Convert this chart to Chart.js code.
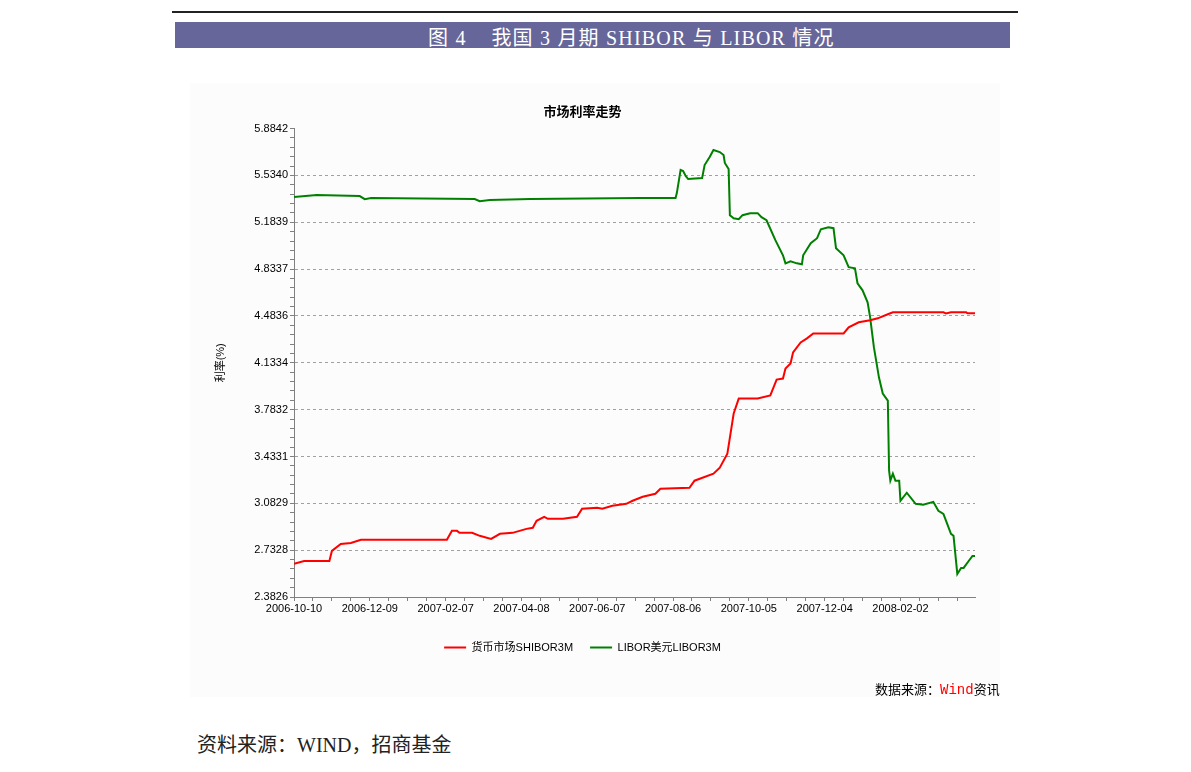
<!DOCTYPE html>
<html>
<head>
<meta charset="utf-8">
<script src="https://cdn.jsdelivr.net/npm/chart.js@4/dist/chart.umd.min.js"></script>
<style>
  body { margin: 0; background: #fff; width: 1191px; height: 772px; position: relative; overflow: hidden; }
  #rule { position: absolute; left: 172px; top: 11px; width: 846px; height: 2px; background: #222; }
  #banner { position: absolute; left: 175px; top: 22px; width: 835px; height: 26px; background: #66669a; }
  #banner span { position: absolute; left: 253px; top: 0; line-height: 26px; font: 20px "Liberation Serif", "Noto Sans CJK SC", serif; letter-spacing: 1.2px; color: #fff; white-space: pre; }
  #box { position: absolute; left: 190px; top: 83px; width: 810px; height: 614px; background: #fcfcfc; }
  #src { position: absolute; left: 875px; top: 679px; font: 13px "Noto Sans CJK SC", sans-serif; color: #000; white-space: pre; }
  #src b { font: 14px "Liberation Mono", monospace; color: #ff0000; font-weight: normal; }
  #foot { position: absolute; left: 197px; top: 729px; font: 20px "Liberation Serif", "Noto Sans CJK SC", serif; color: #222; white-space: pre; }
</style>
</head>
<body>
<div id="rule"></div>
<div id="banner"><span>图 4    我国 3 月期 SHIBOR 与 LIBOR 情况</span></div>
<div id="box"><canvas id="chart" width="810" height="614"></canvas></div>
<div id="src">数据来源：<b>Wind</b>资讯</div>
<div id="foot">资料来源：WIND，招商基金</div>
<script>
// 货币市场SHIBOR3M
const shiborDates = ['2006-10-10', '2006-10-18', '2006-11-07', '2006-11-09', '2006-11-16', '2006-11-24', '2006-12-02', '2007-02-08', '2007-02-12', '2007-02-16', '2007-02-18', '2007-02-28', '2007-03-06', '2007-03-15', '2007-03-22', '2007-04-01', '2007-04-12', '2007-04-17', '2007-04-20', '2007-04-26', '2007-04-29', '2007-05-11', '2007-05-22', '2007-05-26', '2007-06-07', '2007-06-11', '2007-06-19', '2007-06-30', '2007-07-05', '2007-07-13', '2007-07-23', '2007-07-27', '2007-08-19', '2007-08-23', '2007-09-07', '2007-09-12', '2007-09-18', '2007-09-20', '2007-09-23', '2007-09-27', '2007-10-12', '2007-10-22', '2007-10-27', '2007-11-01', '2007-11-03', '2007-11-07', '2007-11-09', '2007-11-15', '2007-11-20', '2007-11-25', '2007-12-19', '2007-12-23', '2007-12-31', '2008-01-09', '2008-01-15', '2008-01-23', '2008-01-27', '2008-03-07', '2008-03-09', '2008-03-13', '2008-03-25', '2008-03-26', '2008-04-01'];
const shiborValues = [2.630, 2.652, 2.652, 2.727, 2.779, 2.786, 2.810, 2.810, 2.877, 2.877, 2.862, 2.862, 2.840, 2.817, 2.855, 2.862, 2.892, 2.900, 2.952, 2.982, 2.967, 2.967, 2.982, 3.042, 3.049, 3.042, 3.064, 3.079, 3.102, 3.132, 3.154, 3.192, 3.199, 3.252, 3.304, 3.349, 3.454, 3.574, 3.754, 3.866, 3.866, 3.889, 4.008, 4.016, 4.091, 4.128, 4.211, 4.286, 4.316, 4.353, 4.353, 4.398, 4.436, 4.451, 4.466, 4.496, 4.511, 4.511, 4.503, 4.511, 4.511, 4.503, 4.503];

// LIBOR美元LIBOR3M
const liborDates = ['2006-10-10', '2006-10-28', '2006-12-01', '2006-12-05', '2006-12-10', '2007-03-02', '2007-03-06', '2007-03-14', '2007-04-15', '2007-07-11', '2007-08-08', '2007-08-09', '2007-08-12', '2007-08-14', '2007-08-16', '2007-08-18', '2007-08-29', '2007-08-31', '2007-09-04', '2007-09-07', '2007-09-12', '2007-09-15', '2007-09-16', '2007-09-19', '2007-09-20', '2007-09-23', '2007-09-27', '2007-09-30', '2007-10-06', '2007-10-12', '2007-10-15', '2007-10-19', '2007-10-26', '2007-11-01', '2007-11-03', '2007-11-07', '2007-11-12', '2007-11-16', '2007-11-17', '2007-11-23', '2007-11-28', '2007-12-01', '2007-12-07', '2007-12-11', '2007-12-13', '2007-12-19', '2007-12-23', '2007-12-28', '2007-12-30', '2008-01-03', '2008-01-07', '2008-01-09', '2008-01-12', '2008-01-16', '2008-01-19', '2008-01-23', '2008-01-24', '2008-01-25', '2008-01-27', '2008-01-29', '2008-02-01', '2008-02-02', '2008-02-07', '2008-02-14', '2008-02-20', '2008-02-28', '2008-03-03', '2008-03-07', '2008-03-10', '2008-03-13', '2008-03-15', '2008-03-18', '2008-03-21', '2008-03-23', '2008-03-27', '2008-03-30', '2008-04-01'];
const liborValues = [5.372, 5.387, 5.380, 5.357, 5.365, 5.357, 5.342, 5.350, 5.357, 5.365, 5.365, 5.402, 5.575, 5.567, 5.530, 5.507, 5.514, 5.612, 5.672, 5.724, 5.709, 5.687, 5.627, 5.582, 5.237, 5.214, 5.207, 5.237, 5.252, 5.252, 5.222, 5.199, 5.050, 4.937, 4.877, 4.892, 4.877, 4.870, 4.937, 5.027, 5.065, 5.132, 5.147, 5.140, 4.990, 4.937, 4.848, 4.840, 4.728, 4.675, 4.585, 4.473, 4.248, 4.023, 3.904, 3.851, 3.327, 3.252, 3.304, 3.252, 3.252, 3.102, 3.162, 3.079, 3.072, 3.094, 3.027, 3.004, 2.930, 2.855, 2.840, 2.555, 2.600, 2.600, 2.652, 2.690, 2.690];

const xTickLabels = ['2006-10-10', '2006-12-09', '2007-02-07', '2007-04-08', '2007-06-07', '2007-08-06', '2007-10-05', '2007-12-04', '2008-02-02'];
const yTickLabels = ['2.3826', '2.7328', '3.0829', '3.4331', '3.7832', '4.1334', '4.4836', '4.8337', '5.1839', '5.5340', '5.8842'];

const startDate = xTickLabels[0];
const dayOf = (d) => Math.round((Date.parse(d) - Date.parse(startDate)) / 86400000);
const toPoints = (dates, values) => dates.map((d, i) => ({ x: dayOf(d), y: values[i] }));

const fontFamily = "'Liberation Sans', 'Noto Sans CJK SC', sans-serif";
const axisGray = '#808080';
const yMajor = yTickLabels.map(Number);

new Chart(document.getElementById('chart'), {
    type: 'line',
    data: {
        datasets: [
            {
                label: '货币市场SHIBOR3M',
                data: toPoints(shiborDates, shiborValues),
                borderColor: '#ff0000',
                backgroundColor: '#ff0000',
                borderWidth: 2,
                pointRadius: 0,
                tension: 0,
            },
            {
                label: 'LIBOR美元LIBOR3M',
                data: toPoints(liborDates, liborValues),
                borderColor: '#008000',
                backgroundColor: '#008000',
                borderWidth: 2,
                pointRadius: 0,
                tension: 0,
            },
        ],
    },
    options: {
        responsive: false,
        animation: false,
        devicePixelRatio: 1,
        font: { family: fontFamily },
        layout: { padding: { left: 0, right: 25, top: 0, bottom: 34 } },
        plugins: {
            title: {
                display: true,
                text: '市场利率走势',
                color: '#000',
                font: { family: fontFamily, size: 13, weight: 'bold' },
                padding: { top: 22, bottom: 8 },
            },
            legend: {
                position: 'bottom',
                labels: {
                    color: '#000',
                    font: { family: fontFamily, size: 11 },
                    usePointStyle: true,
                    pointStyle: 'line',
                    pointStyleWidth: 22,
                    padding: 17,
                },
            },
            tooltip: { enabled: false },
        },
        scales: {
            x: {
                type: 'linear',
                min: 0,
                max: 539,
                afterBuildTicks: (scale) => {
                    const ticks = [];
                    for (let d = 0; d <= 525; d += 15) ticks.push({ value: d });
                    scale.ticks = ticks;
                },
                afterFit: (scale) => { scale.height = 28; },
                ticks: {
                    autoSkip: false,
                    maxRotation: 0,
                    padding: 1,
                    color: '#000',
                    font: { family: fontFamily, size: 11 },
                    callback: (value) => {
                        const lbl = xTickLabels.find((t) => dayOf(t) === value);
                        return lbl || '';
                    },
                },
                grid: { drawOnChartArea: false, tickLength: 4, tickColor: axisGray, color: axisGray },
                border: { color: axisGray, width: 1 },
            },
            y: {
                min: yMajor[0],
                max: yMajor[yMajor.length - 1],
                afterBuildTicks: (scale) => {
                    const ticks = [];
                    for (let i = 0; i < yMajor.length - 1; i++) {
                        for (let k = 0; k < 5; k++) {
                            ticks.push({ value: yMajor[i] + (yMajor[i + 1] - yMajor[i]) * k / 5 });
                        }
                    }
                    ticks.push({ value: yMajor[yMajor.length - 1] });
                    scale.ticks = ticks;
                },
                afterFit: (scale) => { scale.width = 104; },
                title: {
                    display: true,
                    text: '利率(%)',
                    color: '#000',
                    font: { family: fontFamily, size: 11 },
                    padding: { top: 24, bottom: 0 },
                },
                ticks: {
                    autoSkip: false,
                    padding: 2,
                    color: '#000',
                    font: { family: fontFamily, size: 11 },
                    callback: (value, index) => (index % 5 === 0 ? yTickLabels[index / 5] : ''),
                },
                grid: {
                    tickLength: 4,
                    tickColor: axisGray,
                    color: (ctx) => (ctx.index % 5 === 0 && ctx.index !== 0 && ctx.index !== 50 ? '#a0a0a0' : 'rgba(0,0,0,0)'),
                },
                border: { color: axisGray, width: 1, dash: [3, 3] },
            },
        },
    },
});
</script>
</body>
</html>
